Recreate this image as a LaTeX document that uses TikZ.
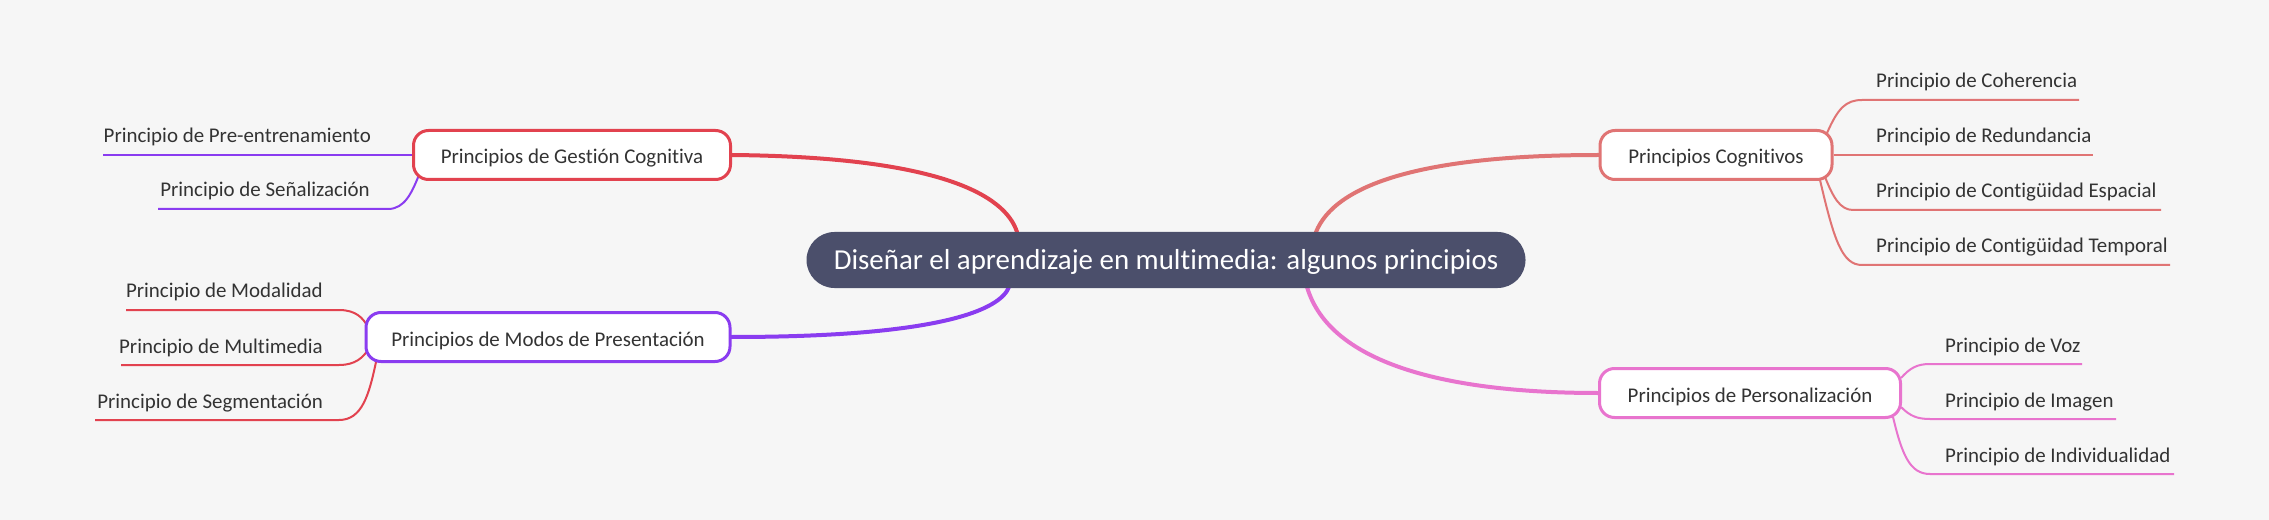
\documentclass[tikz,border=0pt]{standalone}
\usepackage{fontspec}
\setmainfont[Ligatures={NoCommon,NoRare,NoContextual}]{Carlito}
\usetikzlibrary{backgrounds}
\pgfdeclarelayer{edges}
\pgfsetlayers{background,edges,main}
\definecolor{bg}{HTML}{F6F6F6}
\definecolor{central}{HTML}{4B4F6B}
\definecolor{cred}{HTML}{E2424F}
\definecolor{cpurple}{HTML}{8A3CF0}
\definecolor{ccoral}{HTML}{E07474}
\definecolor{cpink}{HTML}{E874CE}
\definecolor{txt}{HTML}{333333}
\tikzset{
  centralbox/.style={fill=central, text=white, rounded corners=28bp, minimum width=719bp, minimum height=56bp, inner sep=0pt, text height=20bp, text depth=0bp, font=\fontsize{29}{34}\selectfont},
  branchbox/.style={fill=white, line width=3bp, rounded corners=15bp, minimum height=49bp, inner sep=0pt, text height=18bp, text depth=0bp, text=txt, font=\fontsize{21}{25}\selectfont},
  leaftext/.style={inner sep=0pt, text=txt, font=\fontsize{21}{25}\selectfont},
  mainedge/.style={line width=4bp, line cap=round},
  leafedge/.style={line width=2bp},
}
\begin{document}
\begin{tikzpicture}[x=1bp,y=-1bp]
\begin{pgfonlayer}{background}
\fill[bg] (0,0) rectangle (2269,520);
\end{pgfonlayer}
\useasboundingbox (0,0) rectangle (2269,520);

\node[centralbox] (c) at (1166,260) {Diseñar el aprendizaje en multimedia: algunos principios};

\node[branchbox, draw=cred, minimum width=317bp] (g) at (572,155) {Principios de Gestión Cognitiva};
\node[branchbox, draw=cpurple, minimum width=364bp] (m) at (548,337) {Principios de Modos de Presentación};
\node[branchbox, draw=ccoral, minimum width=232bp] (cog) at (1716,155) {Principios Cognitivos};
\node[branchbox, draw=cpink, minimum width=301bp] (per) at (1750,393) {Principios de Personalización};

\coordinate (cgtop) at (1017,232);
\coordinate (cmbot) at (1009,287);
\coordinate (cctop) at (1316,232);
\coordinate (cpbot) at (1307,287);

% Gestion leaves (purple)
\node[leaftext, anchor=base east] (pre) at (371,143) {Principio de Pre-entrenamiento};
\node[leaftext, anchor=base east] (sen) at (370,197) {Principio de Señalización};
\coordinate (pre0) at (103,155);
\coordinate (sen0) at (158,209);
\coordinate (sen1) at (388,209);
\coordinate (gsw) at (419,175);

% Modos leaves (red)
\node[leaftext, anchor=base east] (mod) at (323,298) {Principio de Modalidad};
\node[leaftext, anchor=base east] (mul) at (323,353) {Principio de Multimedia};
\node[leaftext, anchor=base east] (seg) at (323,408) {Principio de Segmentación};
\coordinate (mod0) at (126,310);
\coordinate (mod1) at (339,310);
\coordinate (mul0) at (121,365);
\coordinate (mul1) at (339,365);
\coordinate (seg0) at (95,420);
\coordinate (seg1) at (339,420);
\coordinate (mw1) at (368,327);
\coordinate (mw2) at (368,350);
\coordinate (mw3) at (376,362);

% Cognitivos leaves (coral)
\node[leaftext, anchor=base west] (coh) at (1876,88) {Principio de Coherencia};
\node[leaftext, anchor=base west] (red) at (1876,143) {Principio de Redundancia};
\node[leaftext, anchor=base west] (esp) at (1876,198) {Principio de Contigüidad Espacial};
\node[leaftext, anchor=base west] (tem) at (1876,253) {Principio de Contigüidad Temporal};
\coordinate (coh0) at (1862,100);
\coordinate (coh1) at (2079,100);
\coordinate (red1) at (2093,155);
\coordinate (esp0) at (1853,210);
\coordinate (esp1) at (2161,210);
\coordinate (tem0) at (1862,265);
\coordinate (tem1) at (2170,265);
\coordinate (ce1) at (1827,133);
\coordinate (ce3) at (1825,177);
\coordinate (ce4) at (1820,180);

% Personalizacion leaves (pink)
\node[leaftext, anchor=base west] (voz) at (1945,352) {Principio de Voz};
\node[leaftext, anchor=base west] (ima) at (1945,407) {Principio de Imagen};
\node[leaftext, anchor=base west] (ind) at (1945,462) {Principio de Individualidad};
\coordinate (voz0) at (1930,364);
\coordinate (voz1) at (2082,364);
\coordinate (ima0) at (1930,419);
\coordinate (ima1) at (2116,419);
\coordinate (ind0) at (1930,474);
\coordinate (ind1) at (2174,474);
\coordinate (pe1) at (1901,378);
\coordinate (pe2) at (1901,407);
\coordinate (pe3) at (1893,417);

\begin{pgfonlayer}{edges}
\draw[mainedge, cred] (g.east) .. controls (940,157) and (1005,195) .. (cgtop);
\draw[mainedge, cpurple] (m.east) .. controls (940,337) and (1000,310) .. (cmbot);
\draw[mainedge, ccoral] (cctop) .. controls (1335,185) and (1420,155) .. (cog.west);
\draw[mainedge, cpink] (cpbot) .. controls (1330,365) and (1450,393) .. (per.west);

\draw[leafedge, cpurple] (pre0) -- (g.west);
\draw[leafedge, cpurple] (sen0) -- (sen1) .. controls (405,209) and (412,192) .. (gsw);

\draw[leafedge, cred] (mod0) -- (mod1) .. controls (356,310) and (363,318) .. (mw1);
\draw[leafedge, cred] (mul0) -- (mul1) .. controls (356,365) and (363,357) .. (mw2);
\draw[leafedge, cred] (seg0) -- (seg1) .. controls (362,420) and (369,395) .. (mw3);

\draw[leafedge, ccoral] (ce1) .. controls (1838,108) and (1846,100) .. (coh0) -- (coh1);
\draw[leafedge, ccoral] (cog.east) -- (red1);
\draw[leafedge, ccoral] (ce3) .. controls (1833,197) and (1840,210) .. (esp0) -- (esp1);
\draw[leafedge, ccoral] (ce4) .. controls (1834,240) and (1842,265) .. (tem0) -- (tem1);

\draw[leafedge, cpink] (pe1) .. controls (1910,368) and (1917,364) .. (voz0) -- (voz1);
\draw[leafedge, cpink] (pe2) .. controls (1910,416) and (1917,419) .. (ima0) -- (ima1);
\draw[leafedge, cpink] (pe3) .. controls (1902,455) and (1910,474) .. (ind0) -- (ind1);
\end{pgfonlayer}
\end{tikzpicture}
\end{document}
